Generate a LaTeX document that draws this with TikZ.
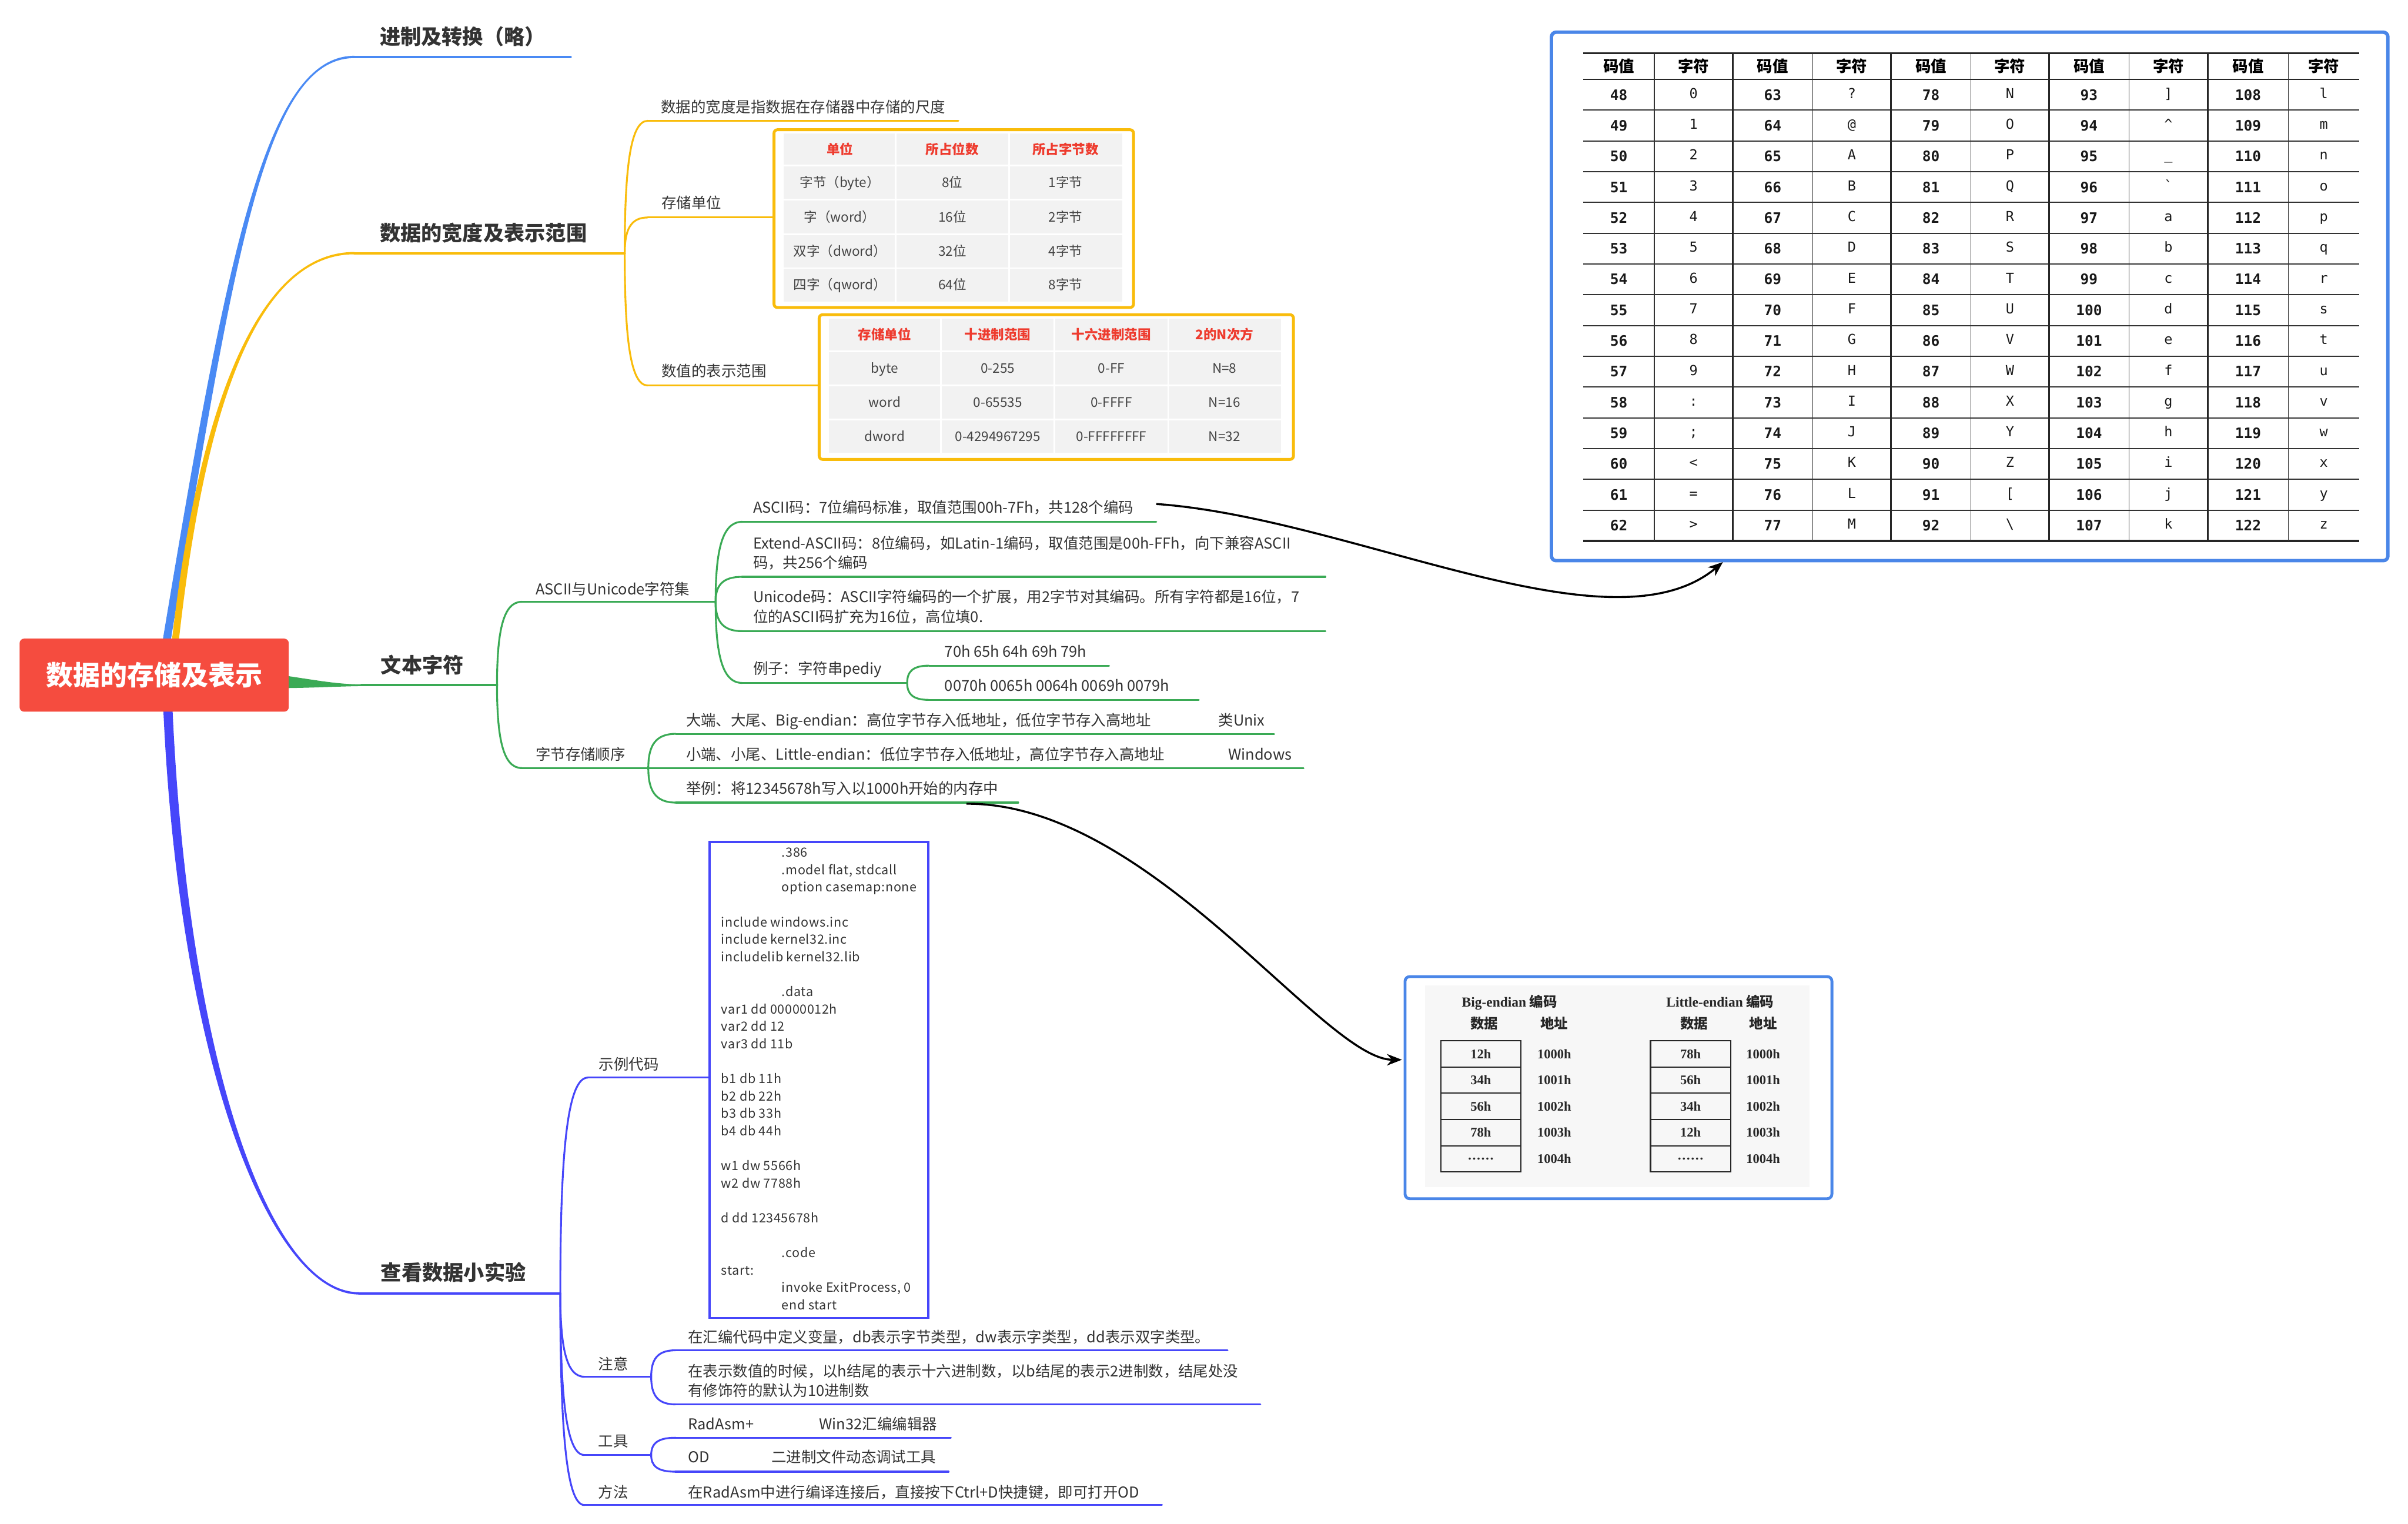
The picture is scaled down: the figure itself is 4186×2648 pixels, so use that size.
\documentclass[tikz,border=0pt]{standalone}
\usepackage{fontspec}
\setmainfont{Noto Sans CJK SC}
\newfontfamily\codefont[LetterSpace=3]{Noto Sans CJK SC}
\newfontfamily\asciimono{DejaVu Sans Mono}
\newfontfamily\endfont{Liberation Serif}
\usetikzlibrary{calc,arrows.meta}
\definecolor{cBlue}{HTML}{4A8AF4}
\definecolor{cYellow}{HTML}{F9BC0B}
\definecolor{cGreen}{HTML}{3AAA55}
\definecolor{cPurple}{HTML}{4646FA}
\definecolor{cRed}{HTML}{F54C3F}
\definecolor{cText}{HTML}{333333}
\definecolor{cTbl}{HTML}{444444}
\definecolor{cRedH}{HTML}{EE3B2E}
\definecolor{cGray}{HTML}{F2F2F2}
\definecolor{cImgBorder}{HTML}{4A86E8}
\tikzset{
  txt/.style={anchor=base west, inner sep=0pt, text=cText, font=\fontsize{26}{34}\selectfont},
  ttl/.style={anchor=base west, inner sep=0pt, text=cText, font=\fontsize{36}{40}\selectfont\bfseries},
  rootnode/.style={rectangle, rounded corners=8pt, fill=cRed, text=white, minimum width=468pt, minimum height=127pt, inner sep=0pt, font=\fontsize{47}{52}\selectfont\bfseries},
  sub/.style={line width=3.2pt, line cap=round},
  mainln/.style={line width=4pt, line cap=round},
  cell/.style={anchor=base, inner sep=0pt, text=cTbl, font=\fontsize{23}{27}\selectfont},
  headcell/.style={anchor=base, inner sep=0pt, text=cRedH, font=\fontsize{23}{27}\selectfont\bfseries},
  codeln/.style={anchor=base west, inner sep=0pt, text=cText, font=\codefont\fontsize{22}{26}\selectfont},
  tblbox/.style={draw=cYellow, line width=5pt, rounded corners=6pt, anchor=north west, inner sep=0pt},
  imgbox/.style={draw=cImgBorder, line width=6pt, rounded corners=8pt, fill=white, anchor=north west, inner sep=0pt},
  ahead/.style={anchor=base, inner sep=0pt, text=black, font=\fontsize{27}{30}\selectfont\bfseries},
  anum/.style={anchor=base, inner sep=0pt, text=black!90, font=\asciimono\bfseries\fontsize{25}{28}\selectfont},
  achr/.style={anchor=base, inner sep=0pt, text=black!90, font=\asciimono\fontsize{24}{28}\selectfont},
  etitle/.style={anchor=base, inner sep=0pt, text=black!85, font=\fontsize{24}{28}\selectfont\bfseries},
  eval/.style={anchor=base, inner sep=0pt, text=black!85, font=\endfont\bfseries\fontsize{23}{26}\selectfont},
  arrowln/.style={draw=black, line width=3.5pt, -{Stealth[length=26pt,width=20pt]}}
}
\newcommand\conn[3]{\draw[sub,#1] (#2) .. controls ($(#2|-#3)!0.35!(#2)$) and ($(#2|-#3)!0.25!(#3)$) .. (#3);}
\newcommand\codeline[4]{\node[codeln] (#1) at (#2,#3+8.1) {#4};}
\begin{document}
\begin{tikzpicture}[x=1pt,y=-1pt]
\useasboundingbox (0,0) rectangle (4186,2648);

% ---------- main tapered branches ----------
\fill[cBlue] (283,1112) .. controls (393,452) and (460,97) .. (616,97) -- (616,101) .. controls (460,101) and (407,448) .. (297,1112) -- cycle;
\fill[cYellow] (299,1112) .. controls (334,800) and (420,438) .. (616,438) -- (616,442) .. controls (420,442) and (346,800) .. (311,1112) -- cycle;
\fill[cPurple] (284,1235) .. controls (312,1850) and (470,2250) .. (624,2250) -- (624,2246) .. controls (470,2246) and (328,1850) .. (300,1235) -- cycle;
\fill[cGreen] (500,1175) .. controls (560,1184) and (590,1189.5) .. (630,1189.5) -- (630,1192.5) .. controls (590,1193) and (560,1195) .. (500,1196) -- cycle;
\node[rootnode] (root) at (268,1173.5) {数据的存储及表示};

% ---------- branch 1 ----------
\coordinate (t1s) at (616,99); \coordinate (t1e) at (992,99);
\draw[mainln,cBlue] (t1s) -- (t1e);
\node[ttl] (t1) at (660,77.3) {进制及转换（略）};

% ---------- branch 2 ----------
\coordinate (t2s) at (616,440); \coordinate (Jy) at (1086,440);
\draw[mainln,cYellow] (t2s) -- (Jy);
\node[ttl] (t2) at (660,418.3) {数据的宽度及表示范围};
\coordinate (y1s) at (1126,210); \coordinate (y1e) at (1666,210);
\coordinate (y2s) at (1126,378); \coordinate (y3s) at (1126,670);
\conn{cYellow}{Jy}{y1s}
\conn{cYellow}{Jy}{y2s}
\conn{cYellow}{Jy}{y3s}
\node[tblbox, minimum width=625pt, minimum height=309pt] (tbA) at (1343,223) {};
\node[tblbox, minimum width=824.5pt, minimum height=251.5pt] (tbB) at (1421.5,544.5) {};
\draw[sub,cYellow] (y1s) -- (y1e);
\draw[sub,cYellow] (y2s) -- (y2s -| tbA.west);
\draw[sub,cYellow] (y3s) -- (y3s -| tbB.west);
\node[txt] (y1) at (1149,195.6) {数据的宽度是指数据在存储器中存储的尺度};
\node[txt] (y2) at (1150,362.6) {存储单位};
\node[txt] (y3) at (1150,654.6) {数值的表示范围};

% table A
\fill[cGray] (1362.5,232) rectangle (1951,524);
\foreach \xx in {1557,1754} \draw[white,line width=3pt] (\xx,232) -- (\xx,524);
\foreach \yy in {288,347,407,466} \draw[white,line width=3pt] (1362.5,\yy) -- (1951,\yy);
\node[headcell] (ta01) at (1460,268.5) {单位};
\node[headcell] (ta02) at (1655.5,268.5) {所占位数};
\node[headcell] (ta03) at (1852.5,268.5) {所占字节数};
\node[cell] (ta11) at (1460,326) {字节（byte）};
\node[cell] (ta12) at (1655.5,326) {8位};
\node[cell] (ta13) at (1852.5,326) {1字节};
\node[cell] (ta21) at (1460,385.5) {字（word）};
\node[cell] (ta22) at (1655.5,385.5) {16位};
\node[cell] (ta23) at (1852.5,385.5) {2字节};
\node[cell] (ta31) at (1460,445) {双字（dword）};
\node[cell] (ta32) at (1655.5,445) {32位};
\node[cell] (ta33) at (1852.5,445) {4字节};
\node[cell] (ta41) at (1460,503.5) {四字（qword）};
\node[cell] (ta42) at (1655.5,503.5) {64位};
\node[cell] (ta43) at (1852.5,503.5) {8字节};

% table B
\fill[cGray] (1440.6,553.5) rectangle (2226.7,787);
\foreach \xx in {1636,1833,2030.6} \draw[white,line width=3pt] (\xx,553.5) -- (\xx,787);
\foreach \yy in {610.6,670,729} \draw[white,line width=3pt] (1440.6,\yy) -- (2226.7,\yy);
\node[headcell] (tb01) at (1538,590.5) {存储单位};
\node[headcell] (tb02) at (1734.5,590.5) {十进制范围};
\node[headcell] (tb03) at (1932,590.5) {十六进制范围};
\node[headcell] (tb04) at (2128.6,590.5) {2的N次方};
\node[cell] (tb11) at (1538,648.5) {byte};
\node[cell] (tb12) at (1734.5,648.5) {0-255};
\node[cell] (tb13) at (1932,648.5) {0-FF};
\node[cell] (tb14) at (2128.6,648.5) {N=8};
\node[cell] (tb21) at (1538,708) {word};
\node[cell] (tb22) at (1734.5,708) {0-65535};
\node[cell] (tb23) at (1932,708) {0-FFFF};
\node[cell] (tb24) at (2128.6,708) {N=16};
\node[cell] (tb31) at (1538,766.5) {dword};
\node[cell] (tb32) at (1734.5,766.5) {0-4294967295};
\node[cell] (tb33) at (1932,766.5) {0-FFFFFFFF};
\node[cell] (tb34) at (2128.6,766.5) {N=32};

% ---------- branch 3 ----------
\coordinate (t3s) at (628,1191); \coordinate (Jg) at (864,1191);
\draw[mainln,cGreen] (t3s) -- (Jg);
\node[ttl] (t3) at (662,1169.3) {文本字符};
\coordinate (g1s) at (907,1046); \coordinate (Ja) at (1244,1046);
\coordinate (g2s) at (907,1335); \coordinate (Jb) at (1127,1335);
\conn{cGreen}{Jg}{g1s}
\conn{cGreen}{Jg}{g2s}
\draw[sub,cGreen] (g1s) -- (Ja);
\draw[sub,cGreen] (g2s) -- (Jb);
\node[txt] (g1) at (931,1033.6) {ASCII与Unicode字符集};
\node[txt] (g2) at (931,1320.6) {字节存储顺序};

\coordinate (a1s) at (1290,907); \coordinate (a1e) at (2010,907);
\coordinate (a2s) at (1290,1002.6); \coordinate (a2e) at (2304,1002.6);
\coordinate (a3s) at (1290,1097); \coordinate (a3e) at (2304,1097);
\coordinate (a4s) at (1290,1187); \coordinate (Jp) at (1577,1187);
\conn{cGreen}{Ja}{a1s}
\conn{cGreen}{Ja}{a2s}
\conn{cGreen}{Ja}{a3s}
\conn{cGreen}{Ja}{a4s}
\draw[sub,cGreen] (a1s) -- (a1e);
\draw[sub,cGreen] (a2s) -- (a2e);
\draw[sub,cGreen] (a3s) -- (a3e);
\draw[sub,cGreen] (a4s) -- (Jp);
\node[txt] (a1) at (1309,891.6) {ASCII码：7位编码标准，取值范围00h-7Fh，共128个编码};
\node[txt] (a2) at (1309,953.6) {\begin{tabular}[t]{@{}l@{}}Extend-ASCII码：8位编码，如Latin-1编码，取值范围是00h-FFh，向下兼容ASCII\\码，共256个编码\end{tabular}};
\node[txt, font=\fontsize{26}{35}\selectfont] (a3) at (1309,1047.2) {\begin{tabular}[t]{@{}l@{}}Unicode码：ASCII字符编码的一个扩展，用2字节对其编码。所有字符都是16位，7\\位的ASCII码扩充为16位，高位填0.\end{tabular}};
\node[txt] (a4) at (1309,1171.6) {例子：字符串pediy};

\coordinate (p1s) at (1615,1157); \coordinate (p1e) at (1928,1157);
\coordinate (p2s) at (1615,1216.5); \coordinate (p2e) at (2084,1216.5);
\conn{cGreen}{Jp}{p1s}
\conn{cGreen}{Jp}{p2s}
\draw[sub,cGreen] (p1s) -- (p1e);
\draw[sub,cGreen] (p2s) -- (p2e);
\node[txt] (p1) at (1642,1141.6) {70h 65h 64h 69h 79h};
\node[txt] (p2) at (1642,1201.6) {0070h 0065h 0064h 0069h 0079h};

\coordinate (b1s) at (1175,1275.5); \coordinate (b1e) at (2215,1275.5);
\coordinate (b2s) at (1175,1335); \coordinate (b2e) at (2266,1335);
\coordinate (b3s) at (1175,1395); \coordinate (b3e) at (1770,1395);
\conn{cGreen}{Jb}{b1s}
\conn{cGreen}{Jb}{b3s}
\draw[sub,cGreen] (b1s) -- (b1e);
\draw[sub,cGreen] (Jb) -- (b2e);
\draw[sub,cGreen] (b3s) -- (b3e);
\node[txt] (b1) at (1192.5,1261.2) {大端、大尾、Big-endian：高位字节存入低地址，低位字节存入高地址};
\node[txt] (b1r) at (2118,1261.2) {类Unix};
\node[txt] (b2) at (1192.5,1320.6) {小端、小尾、Little-endian：低位字节存入低地址，高位字节存入高地址};
\node[txt] (b2r) at (2135,1320.6) {Windows};
\node[txt] (b3) at (1192.5,1380.6) {举例：将12345678h写入以1000h开始的内存中};

% ---------- branch 4 ----------
\coordinate (t4s) at (624,2248); \coordinate (Jq) at (974,2248);
\draw[mainln,cPurple] (t4s) -- (Jq);
\node[ttl] (t4) at (662,2225.3) {查看数据小实验};
\coordinate (s1s) at (1022,1873);
\coordinate (s2s) at (1016,2393); \coordinate (Jn) at (1132,2393);
\coordinate (s3s) at (1016,2529); \coordinate (Jk) at (1132,2529);
\coordinate (s4s) at (1016,2616); \coordinate (s4e) at (2020,2616);
\conn{cPurple}{Jq}{s1s}
\conn{cPurple}{Jq}{s2s}
\conn{cPurple}{Jq}{s3s}
\conn{cPurple}{Jq}{s4s}
\node[draw=cPurple, line width=4pt, fill=white, minimum width=380.5pt, minimum height=827.7pt, anchor=north west, inner sep=0pt] (codebox) at (1231.5,1461) {};
\draw[sub,cPurple] (s1s) -- (s1s -| codebox.west);
\draw[sub,cPurple] (s2s) -- (Jn);
\draw[sub,cPurple] (s3s) -- (Jk);
\draw[sub,cPurple] (s4s) -- (s4e);
\node[txt] (s1) at (1041,1859.6) {示例代码};
\node[txt] (s2) at (1040,2380.6) {注意};
\node[txt] (s3) at (1040,2514.6) {工具};
\node[txt] (s4) at (1040,2603.6) {方法};
\node[txt] (m1) at (1196,2603.6) {在RadAsm中进行编译连接后，直接按下Ctrl+D快捷键，即可打开OD};

\coordinate (n1s) at (1174,2347); \coordinate (n1e) at (2134,2347);
\coordinate (n2s) at (1174,2441); \coordinate (n2e) at (2191,2441);
\conn{cPurple}{Jn}{n1s}
\conn{cPurple}{Jn}{n2s}
\draw[sub,cPurple] (n1s) -- (n1e);
\draw[sub,cPurple] (n2s) -- (n2e);
\node[txt] (n1) at (1196,2333.6) {在汇编代码中定义变量，db表示字节类型，dw表示字类型，dd表示双字类型。};
\node[txt] (n2) at (1196,2392.6) {\begin{tabular}[t]{@{}l@{}}在表示数值的时候，以h结尾的表示十六进制数，以b结尾的表示2进制数，结尾处没\\有修饰符的默认为10进制数\end{tabular}};

\coordinate (k1s) at (1174,2499); \coordinate (k1e) at (1653,2499);
\coordinate (k2s) at (1174,2558); \coordinate (k2e) at (1649,2558);
\conn{cPurple}{Jk}{k1s}
\conn{cPurple}{Jk}{k2s}
\draw[sub,cPurple] (k1s) -- (k1e);
\draw[sub,cPurple] (k2s) -- (k2e);
\node[txt] (k1) at (1196,2484.6) {RadAsm+};
\node[txt] (k1r) at (1424,2484.6) {Win32汇编编辑器};
\node[txt] (k2) at (1196,2542.6) {OD};
\node[txt] (k2r) at (1341,2542.6) {二进制文件动态调试工具};

% code text
\codeline{c1}{1359}{1481.6}{.386}
\codeline{c2}{1359}{1511.8}{.model flat, stdcall}
\codeline{c3}{1359}{1542.1}{option casemap:none}
\codeline{c4}{1253.6}{1602.6}{include windows.inc}
\codeline{c5}{1253.6}{1632.9}{include kernel32.inc}
\codeline{c6}{1253.6}{1663.1}{includelib kernel32.lib}
\codeline{c7}{1359}{1723.6}{.data}
\codeline{c8}{1253.6}{1753.9}{var1 dd 00000012h}
\codeline{c9}{1253.6}{1784.1}{var2 dd 12}
\codeline{c10}{1253.6}{1814.4}{var3 dd 11b}
\codeline{c11}{1253.6}{1874.9}{b1 db 11h}
\codeline{c12}{1253.6}{1905.1}{b2 db 22h}
\codeline{c13}{1253.6}{1935.4}{b3 db 33h}
\codeline{c14}{1253.6}{1965.6}{b4 db 44h}
\codeline{c15}{1253.6}{2026.1}{w1 dw 5566h}
\codeline{c16}{1253.6}{2056.4}{w2 dw 7788h}
\codeline{c17}{1253.6}{2116.9}{d dd 12345678h}
\codeline{c18}{1359}{2177.4}{.code}
\codeline{c19}{1253.6}{2207.6}{start:}
\codeline{c20}{1359}{2237.9}{invoke ExitProcess, 0}
\codeline{c21}{1359}{2268.1}{end start}

% ---------- ASCII table image ----------
\node[imgbox, minimum width=1454pt, minimum height=918.5pt] (asciiimg) at (2694,53) {};
\draw[black!85,line width=3.5pt] (2752,92.7) -- (4101,92.7);
\draw[black!85,line width=2.5pt] (2752,138) -- (4101,138);
\foreach \i in {1,...,14} \draw[black!80,line width=2pt] (2752,{138+53.47*\i}) -- (4101,{138+53.47*\i});
\draw[black!85,line width=3.5pt] (2752,940) -- (4101,940);
\foreach \xx in {2876,3151,3426,3701,3978} \draw[black!80,line width=1.6pt] (\xx,92.7) -- (\xx,940);
\foreach \xx in {3012,3287.5,3562,3838} \draw[black!85,line width=3pt] (\xx,92.7) -- (\xx,940);
\foreach \k/\cx/\hx in {0/2814/2944,1/3081.5/3219,2/3356.75/3494,3/3631.5/3769.5,4/3908/4039.5}{
  \node[ahead] (hc\k) at (\cx,125) {码值};
  \node[ahead] (hs\k) at (\hx,125) {字符};
}
\foreach \c [count=\i from 0] in {0,1,2,3,4,5,6,7,8,9,:,;,<,=,>}{
  \pgfmathtruncatemacro\code{48+\i}
  \node[anum] (n0-\i) at (2814,{164.7+53.47*\i+9.1}) {\code};
  \node[achr] (ch0-\i) at (2944,{162+53.47*\i+8.8}) {\c};
}
\foreach \c [count=\i from 0] in {?,@,A,B,C,D,E,F,G,H,I,J,K,L,M}{
  \pgfmathtruncatemacro\code{63+\i}
  \node[anum] (n1-\i) at (3081.5,{164.7+53.47*\i+9.1}) {\code};
  \node[achr] (ch1-\i) at (3219,{162+53.47*\i+8.8}) {\c};
}
\foreach \c [count=\i from 0] in {N,O,P,Q,R,S,T,U,V,W,X,Y,Z,{[},\textbackslash}{
  \pgfmathtruncatemacro\code{78+\i}
  \node[anum] (n2-\i) at (3356.75,{164.7+53.47*\i+9.1}) {\code};
  \node[achr] (ch2-\i) at (3494,{162+53.47*\i+8.8}) {\c};
}
\foreach \c [count=\i from 0] in {{]},\textasciicircum,\_,\textasciigrave,a,b,c,d,e,f,g,h,i,j,k}{
  \pgfmathtruncatemacro\code{93+\i}
  \node[anum] (n3-\i) at (3631.5,{164.7+53.47*\i+9.1}) {\code};
  \node[achr] (ch3-\i) at (3769.5,{162+53.47*\i+8.8}) {\c};
}
\foreach \c [count=\i from 0] in {l,m,n,o,p,q,r,s,t,u,v,w,x,y,z}{
  \pgfmathtruncatemacro\code{108+\i}
  \node[anum] (n4-\i) at (3908,{164.7+53.47*\i+9.1}) {\code};
  \node[achr] (ch4-\i) at (4039.5,{162+53.47*\i+8.8}) {\c};
}

% ---------- endian image ----------
\node[imgbox, line width=5pt, minimum width=742pt, minimum height=386pt] (endimg) at (2440,1695) {};
\fill[black!3] (2477,1713) rectangle (3146,2063);
\node[etitle] (et1) at (2624,1750) {{\endfont Big-endian} 编码};
\node[etitle] (et2) at (2990,1750) {{\endfont Little-endian} 编码};
\node[etitle] (eh1) at (2580,1788) {数据};
\node[etitle] (eh2) at (2702,1788) {地址};
\node[etitle] (eh3) at (2945,1788) {数据};
\node[etitle] (eh4) at (3065,1788) {地址};
\draw[black!85,line width=2.5pt] (2504.6,1809) rectangle (2644,2036.7);
\draw[black!85,line width=2.5pt] (2869,1809) rectangle (3008.5,2036.7);
\foreach \yy in {1855,1900,1945.7,1991.7}{
  \draw[black!85,line width=2.5pt] (2504.6,\yy) -- (2644,\yy);
  \draw[black!85,line width=2.5pt] (2869,\yy) -- (3008.5,\yy);
}
\foreach \l/\r/\ad [count=\i from 0] in {12h/78h/1000h,34h/56h/1001h,56h/34h/1002h,78h/12h/1003h,{······}/{······}/1004h}{
  \node[eval] (el\i) at (2574.3,{1832+45.55*\i+7.6}) {\l};
  \node[eval] (ea\i) at (2702,{1832+45.55*\i+7.6}) {\ad};
  \node[eval] (er\i) at (2938.7,{1832+45.55*\i+7.6}) {\r};
  \node[eval] (eb\i) at (3065,{1832+45.55*\i+7.6}) {\ad};
}

% ---------- arrows ----------
\coordinate (arrAs) at (2010,876);
\coordinate (arrAe) at (2995,977);
\draw[arrowln] (arrAs) .. controls (2350,900) and (2800,1140) .. (arrAe);
\coordinate (arrBs) at (1680,1397);
\coordinate (arrBe) at (2437,1842);
\draw[arrowln] (arrBs) .. controls (2000,1395) and (2300,1842) .. (arrBe);
\end{tikzpicture}
\end{document}
